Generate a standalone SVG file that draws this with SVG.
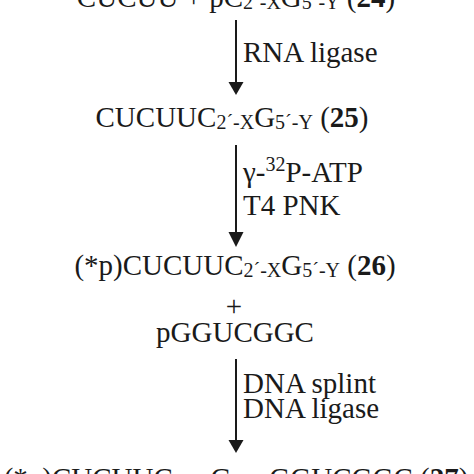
<svg xmlns="http://www.w3.org/2000/svg" width="474" height="474" viewBox="0 0 474 474">
<defs>
<style>
text{font-family:"Liberation Serif","Times New Roman",serif;font-size:29px;fill:#1a1a1a}
.s{font-size:20px}
.b{font-weight:bold}
.ln{stroke:#1a1a1a;stroke-width:2;fill:none}
.hd{fill:#1a1a1a}
</style>
</defs>
<rect width="474" height="474" fill="#ffffff"/>
<g id="compound24">
<text x="236" y="7" text-anchor="middle">CUCUU + pC<tspan class="s" dy="2">2´-X</tspan><tspan dy="-2">G</tspan><tspan class="s" dy="2">5´-Y</tspan><tspan dy="-2"> (</tspan><tspan class="b">24</tspan>)</text>
</g>
<g id="compound25">
<text x="232" y="127" text-anchor="middle">CUCUUC<tspan class="s" dy="2">2´-X</tspan><tspan dy="-2">G</tspan><tspan class="s" dy="2">5´-Y</tspan><tspan dy="-2"> (</tspan><tspan class="b">25</tspan>)</text>
</g>
<g id="compound26">
<text x="235" y="275" text-anchor="middle">(*p)CUCUUC<tspan class="s" dy="2">2´-X</tspan><tspan dy="-2">G</tspan><tspan class="s" dy="2">5´-Y</tspan><tspan dy="-2"> (</tspan><tspan class="b">26</tspan>)</text>
<text x="234" y="316" text-anchor="middle">+</text>
<text x="235" y="342" text-anchor="middle">pGGUCGGC</text>
</g>
<g id="compound27">
<text x="236" y="488" text-anchor="middle">(*p)CUCUUC<tspan class="s" dy="2">2´-X</tspan><tspan dy="-2">G</tspan><tspan class="s" dy="2">5´-Y</tspan><tspan dy="-2">GGUCGGC (</tspan><tspan class="b">27</tspan>)</text>
</g>
<g id="connectors">
<line class="ln" x1="236" y1="20" x2="236" y2="84"/>
<polygon class="hd" points="228.5,82 243.5,82 236,95"/>
<line class="ln" x1="236" y1="145" x2="236" y2="234"/>
<polygon class="hd" points="228.5,232 243.5,232 236,247"/>
<line class="ln" x1="236" y1="359" x2="236" y2="442"/>
<polygon class="hd" points="228.5,440 243.5,440 236,453"/>
</g>
<g id="labels">
<text x="243" y="62">RNA ligase</text>
<text x="243" y="182">γ-<tspan class="s" dy="-11">32</tspan><tspan dy="11">P-ATP</tspan></text>
<text x="243" y="215">T4 PNK</text>
<text x="243" y="393">DNA splint</text>
<text x="243" y="418">DNA ligase</text>
</g>
</svg>
